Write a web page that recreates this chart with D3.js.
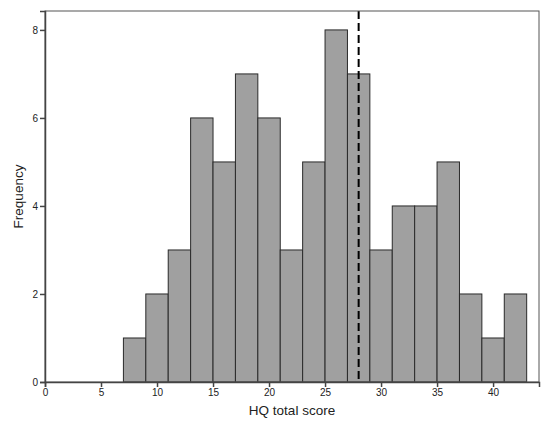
<!DOCTYPE html>
<html>
<head>
<meta charset="utf-8">
<script src="https://cdn.jsdelivr.net/npm/d3@7"></script>
<style>
  body { margin: 0; background: #fff; }
  svg { display: block; font-family: Arial, "Liberation Sans", sans-serif; }
</style>
</head>
<body>
<svg id="chart" width="550" height="427"></svg>
<script>
// bins of width 2, starting at 7
const binStarts = [7, 9, 11, 13, 15, 17, 19, 21, 23, 25, 27, 29, 31, 33, 35, 37, 39, 41];
const counts = [1, 2, 3, 6, 5, 7, 6, 3, 5, 8, 7, 3, 4, 4, 5, 2, 1, 2];
const binWidth = 2;
const xTicks = [0, 5, 10, 15, 20, 25, 30, 35, 40];
const yTicks = [0, 2, 4, 6, 8];
const refValue = 28;

const svg = d3.select("#chart");
const plotLeft = 45, plotRight = 539, plotTop = 11, plotBottom = 382;

const x = d3.scaleLinear().domain([0, 44.1]).range([plotLeft, plotRight]);
const y = d3.scaleLinear().domain([0, 8.43]).range([plotBottom, plotTop]);

const bins = binStarts.map((s, i) => ({ x0: s, x1: s + binWidth, n: counts[i] }));

svg.append("g")
  .selectAll("rect")
  .data(bins)
  .join("rect")
  .attr("x", (d) => x(d.x0))
  .attr("y", (d) => y(d.n))
  .attr("width", (d) => x(d.x1) - x(d.x0))
  .attr("height", (d) => y(0) - y(d.n))
  .attr("fill", "#a0a0a0")
  .attr("stroke", "#2a2a2a")
  .attr("stroke-width", 1);

// reference line
svg.append("line")
  .attr("x1", x(refValue)).attr("x2", x(refValue))
  .attr("y1", plotTop).attr("y2", plotBottom)
  .attr("stroke", "#000")
  .attr("stroke-width", 2)
  .attr("stroke-dasharray", "8,4");

// frame
svg.append("rect")
  .attr("x", plotLeft).attr("y", plotTop)
  .attr("width", plotRight - plotLeft).attr("height", plotBottom - plotTop)
  .attr("fill", "none")
  .attr("stroke", "#555")
  .attr("stroke-width", 1);

const xAxis = svg.append("g")
  .attr("transform", `translate(0,${plotBottom})`)
  .call(d3.axisBottom(x).tickValues(xTicks).tickSize(5).tickPadding(2));

const yAxis = svg.append("g")
  .attr("transform", `translate(${plotLeft},0)`)
  .call(d3.axisLeft(y).tickValues(yTicks).tickSize(5).tickPadding(2));

[xAxis, yAxis].forEach((g) => {
  g.select(".domain").attr("stroke", "#444").attr("stroke-width", 1.5);
  g.selectAll(".tick line").attr("stroke", "#444").attr("stroke-width", 1.5);
  g.selectAll(".tick text").attr("fill", "#222").style("font-size", "10px").style("font-family", "Arial, 'Liberation Sans', sans-serif");
});

svg.append("text")
  .attr("x", (plotLeft + plotRight) / 2)
  .attr("y", 415)
  .attr("text-anchor", "middle")
  .attr("fill", "#222")
  .style("font-size", "13.5px")
  .text("HQ total score");

svg.append("text")
  .attr("transform", `translate(23,${(plotTop + plotBottom) / 2}) rotate(-90)`)
  .attr("text-anchor", "middle")
  .attr("fill", "#222")
  .style("font-size", "13.5px")
  .text("Frequency");
</script>
</body>
</html>
